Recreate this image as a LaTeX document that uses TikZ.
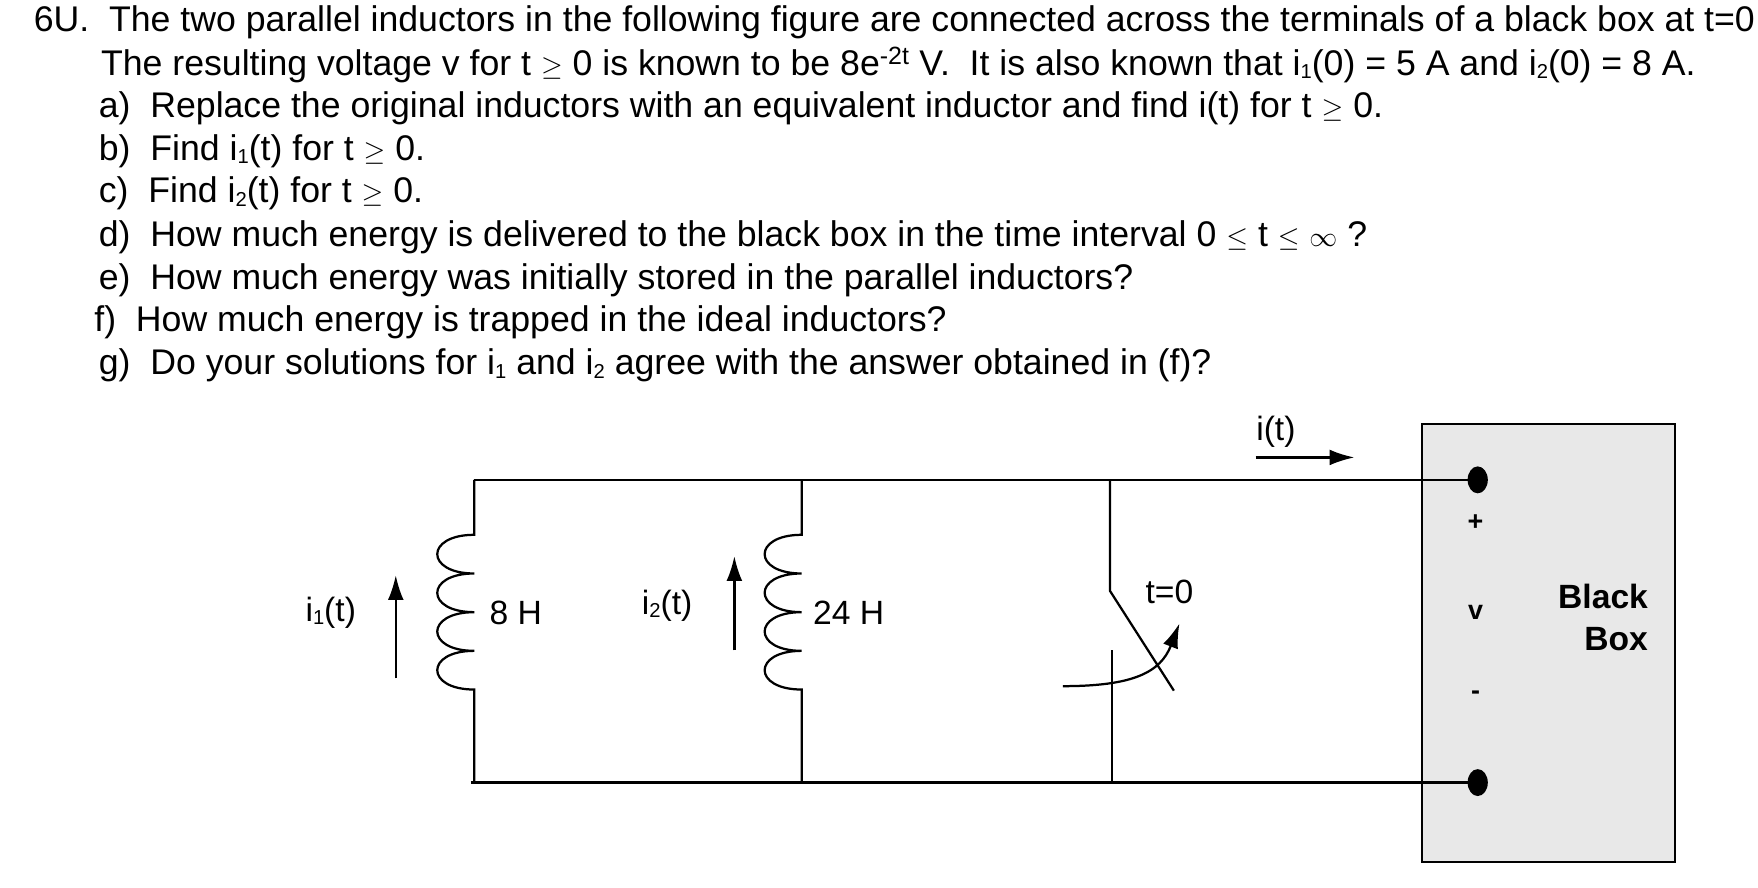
\documentclass[tikz,border=0pt]{standalone}
\usepackage{fontspec}
\setmainfont{Liberation Sans}
\usetikzlibrary{arrows.meta}
\newcommand{\sbs}[1]{\raisebox{-0.1em}{\fontsize{18}{18}\selectfont #1}}
\begin{document}
\begin{tikzpicture}[x=1pt,y=-1pt,
  txt/.style={anchor=base west,inner sep=0pt,font=\fontsize{31.8}{37}\selectfont},
  lbl/.style={anchor=base,inner sep=0pt,font=\fontsize{30}{36}\selectfont},
  wire/.style={line width=2.2pt},
  arr/.style={line width=2pt,-{Latex[length=22pt,width=14pt]}},
  coilst/.style={line width=2pt}]
\clip (0,0) rectangle (1568,792);
\useasboundingbox (0,0) rectangle (1568,792);
\fill[white] (0,0) rectangle (1568,792);
% text
\node[txt] (l1) at (30,28) {6U.\ \ The two parallel inductors in the following figure are connected across the terminals of a black box at t=0.};
\node[txt] (l2) at (90,67) {The resulting voltage v for t $\geq$ 0 is known to be 8e\textsuperscript{-2t} V.\ \ It is also known that i\sbs{1}(0) = 5 A and i\sbs{2}(0) = 8 A.};
\node[txt] (la) at (88,105) {a)\ \ Replace the original inductors with an equivalent inductor and find i(t) for t $\geq$ 0.};
\node[txt] (lb) at (88,143) {b)\ \ Find i\sbs{1}(t) for t $\geq$ 0.};
\node[txt] (lc) at (88,181) {c)\ \ Find i\sbs{2}(t) for t $\geq$ 0.};
\node[txt] (ld) at (88,220) {d)\ \ How much energy is delivered to the black box in the time interval 0 $\leq$ t $\leq$ $\infty$ ?};
\node[txt] (le) at (88,258) {e)\ \ How much energy was initially stored in the parallel inductors?};
\node[txt] (lf) at (84,296) {f)\ \ How much energy is trapped in the ideal inductors?};
\node[txt] (lg) at (88,334) {g)\ \ Do your solutions for i\sbs{1} and i\sbs{2} agree with the answer obtained in (f)?};
% black box
\node[draw,line width=2pt,fill=black!9,minimum width=226pt,minimum height=391pt,anchor=north west,inner sep=0pt] (bb) at (1267,377) {};
\node[anchor=base east,inner sep=0pt,align=right,font=\fontsize{30}{37}\bfseries\selectfont] (bbt) at (1470,580) {Black\\Box};
\node[inner sep=0pt,font=\fontsize{24}{28}\bfseries\selectfont] (plus) at (1316,466) {+};
\node[inner sep=0pt,font=\fontsize{24}{28}\bfseries\selectfont] (vv) at (1316,546) {v};
\node[inner sep=0pt,font=\fontsize{24}{28}\bfseries\selectfont] (minus) at (1316,620) {-};
\fill (1318,428) ellipse (9 and 12);
\fill (1318,698) ellipse (9 and 12);
\coordinate (tp) at (1318,428);
\coordinate (bp) at (1318,698);
% wires
\coordinate (t1) at (423,428); \coordinate (t2) at (715,428); \coordinate (t3) at (990,428);
\coordinate (b1) at (420,698); \coordinate (b2) at (715,698); \coordinate (b3) at (992,698);
\draw[wire] (t1) -- (tp);
\draw[wire] (b1) -- (bp);
% inductors
\foreach \x/\n in {423/a,715/b}{
  \draw[coilst] (\x,428) -- (\x,477)
    .. controls (\x-44,477) and (\x-44,511.5) .. (\x,511.5)
    .. controls (\x-44,511.5) and (\x-44,546) .. (\x,546)
    .. controls (\x-44,546) and (\x-44,580.5) .. (\x,580.5)
    .. controls (\x-44,580.5) and (\x-44,615) .. (\x,615) -- (\x,698);
}
\node[lbl] (h8) at (460,557) {8 H};
\node[lbl] (h24) at (757,557) {24 H};
\node[lbl] (i1) at (295,554) {i\sbs{1}(t)};
\node[lbl] (i2) at (595,548) {i\sbs{2}(t)};
\coordinate (a1s) at (353,605); \coordinate (a1e) at (353,513);
\coordinate (a2s) at (655,580); \coordinate (a2e) at (655,496);
\draw[arr] (a1s) -- (a1e);
\draw[arr] (a2s) -- (a2e);
% switch
\coordinate (s1) at (990,527); \coordinate (s2) at (1047,616); \coordinate (s3) at (992,580);
\draw[coilst] (t3) -- (s1) -- (s2);
\draw[coilst] (s3) -- (b3);
\coordinate (c0) at (948,612); \coordinate (c1) at (1052,556);
\draw[arr] (c0) .. controls (1010,612) and (1035,600) .. (c1);
\node[lbl] (t0) at (1043,538) {t=0};
% i(t)
\node[lbl] (it) at (1138,393) {i(t)};
\coordinate (ia) at (1120,408); \coordinate (ib) at (1208,408);
\draw[arr] (ia) -- (ib);
\end{tikzpicture}
\end{document}
